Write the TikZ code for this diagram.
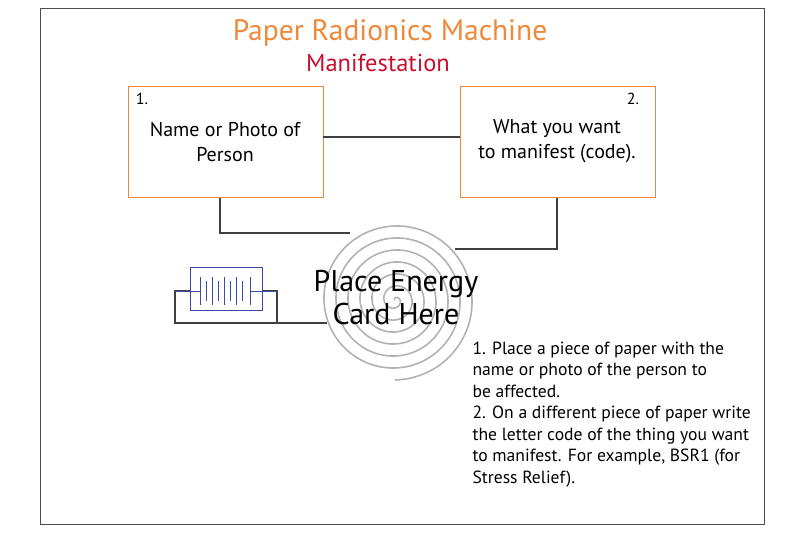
\documentclass[tikz,border=0pt]{standalone}
\usepackage{fontspec}
\setmainfont{PT Sans}
\definecolor{ttl}{HTML}{F0883A}
\definecolor{sub}{HTML}{C8102E}
\definecolor{bl}{HTML}{3A4BA8}
\begin{document}
\begin{tikzpicture}[x=1pt,y=-1pt,
  box/.style={draw=ttl,line width=1pt},
  wire/.style={draw=black!75,line width=1.2pt},
  txt/.style={font=\fontsize{17.6}{21.5}\selectfont,align=left}]
\useasboundingbox (0,0) rectangle (794,534);
\draw[black!70,line width=0.8pt] (40,8) rectangle (764,524);
\node[text=ttl,font=\fontsize{29.5}{32}\selectfont] (t) at (390,33) {Paper Radionics Machine};
\node[text=sub,font=\fontsize{24.5}{26}\selectfont] (s) at (378,63) {Manifestation};
\draw[box] (128,87) rectangle (323,198);
\draw[box] (460,87) rectangle (655,198);
\coordinate (b1r) at (323,137); \coordinate (b2l) at (460,137);
\coordinate (b1b) at (220,198); \coordinate (b2b) at (557,198);
\node[font=\fontsize{16}{18}\selectfont] (n1) at (142,99) {1.};
\node[font=\fontsize{16}{18}\selectfont] (n2) at (633,99) {2.};
\node[font=\fontsize{20}{25}\selectfont,align=center] (a) at (225,142) {Name or Photo of\\Person};
\node[font=\fontsize{20}{25}\selectfont,align=center] (b) at (557,141) {What you want\\to manifest (code).};
\draw[wire] (b1r) -- (b2l);
% spiral
\draw[black!30,line width=1.6pt] plot[domain=0:2400,samples=500,smooth] ({395+(\x/30)*cos(\x+210)},{300+(\x/30)*sin(\x+210)});
\coordinate (c1) at (350,233); \coordinate (c2) at (455,249); \coordinate (c3) at (327,323);
\draw[wire] (b1b) |- (c1);
\draw[wire] (b2b) |- (c2);
\draw[wire] (c3) -- (175,323) -- (175,291) -- (190,291);
\draw[wire] (262,291) -- (277,291) -- (277,323);
\draw[bl,line width=1pt] (190,268) rectangle (262,310);
\draw[bl,line width=1pt] (175,291) -- (200,291) (250,291) -- (277,291);
\foreach \xx/\h in {200/14,206/10,212/14,218/10,224/14,230/10,236/14,242/10,250/14}
  \draw[bl,line width=1pt] (\xx,291-\h) -- (\xx,291+\h);
\node[font=\fontsize{30}{33}\selectfont,align=center] (p) at (396,298) {Place Energy\\Card Here};
\node[txt,anchor=north west] (i) at (469,338) {1. Place a piece of paper with the\\name or photo of the person to\\be affected.\\2. On a different piece of paper write\\the letter code of the thing you want\\to manifest. For example, BSR1 (for\\Stress Relief).};
\end{tikzpicture}
\end{document}
